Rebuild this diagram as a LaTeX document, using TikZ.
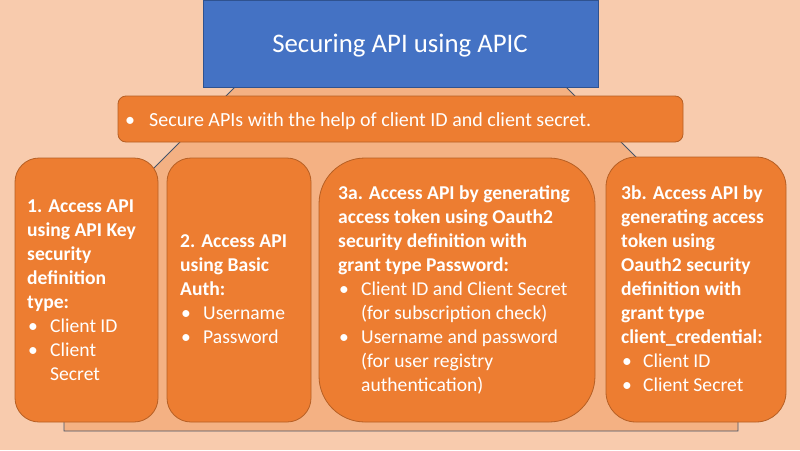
\documentclass[tikz,border=0pt]{standalone}
\usepackage{fontspec}
\setmainfont{Carlito}
\definecolor{bgpeach}{HTML}{F8CBAD}
\definecolor{lightor}{HTML}{F4B183}
\definecolor{boxor}{HTML}{ED7D31}
\definecolor{boxedge}{HTML}{B65F24}
\definecolor{titleblue}{HTML}{4472C4}
\definecolor{titleedge}{HTML}{2F528F}
\definecolor{polyedge}{HTML}{44546A}
\newcommand{\mybul}{\makebox[23pt][l]{\hspace{1pt}•}}
\newcommand{\myind}{\hspace*{23pt}}
\tikzset{
  obox/.style={draw=boxedge, fill=boxor, line width=0.8pt, inner sep=0pt},
  txt/.style={anchor=base west, inner sep=0pt, text=white, font=\fontsize{19.6}{24}\selectfont},
}
\begin{document}
\begin{tikzpicture}[x=1pt,y=-1pt]
\useasboundingbox (0,0) rectangle (800,450);
\fill[bgpeach] (0,0) rectangle (800,450);
% background polygon
\filldraw[fill=lightor, draw=polyedge, line width=0.8pt]
  (235,87) -- (566,87) -- (738,259) -- (738,431) -- (64,431) -- (64,258) -- cycle;
% title
\node[draw=titleedge, fill=titleblue, line width=0.8pt, minimum width=395pt, minimum height=87pt, inner sep=0pt] (title) at (400.5,43.5) {};
\node[anchor=base, inner sep=0pt, text=white, font=\fontsize{26.8}{30}\selectfont] (titletxt) at (400,52) {Securing API using APIC};
% middle bar
\node[obox, rounded corners=8pt, minimum width=565pt, minimum height=46pt] (bar) at (400.5,119) {};
\node[anchor=base west, inner sep=0pt, text=white, font=\fontsize{20}{24}\selectfont] (bartxt) at (125,126) {\makebox[24pt][l]{•}Secure APIs with the help of client ID and client secret.};
% boxes
\node[obox, rounded corners=24pt, minimum width=143pt, minimum height=264pt] (b1) at (86.5,290) {};
\node[obox, rounded corners=24pt, minimum width=144pt, minimum height=264pt] (b2) at (239,290) {};
\node[obox, rounded corners=46pt, minimum width=276pt, minimum height=264pt] (b3) at (457,290) {};
\node[obox, rounded corners=30pt, minimum width=180pt, minimum height=265pt] (b4) at (696,289.5) {};
% texts
\node[txt] (t1) at (27,212) {\parbox[t]{135pt}{\raggedright\bfseries 1. Access API\\ using API Key\\ security\\ definition\\ type:\\ \mdseries\mybul Client ID\\ \mybul Client\\ \myind Secret}};
\node[txt] (t2) at (180,247) {\parbox[t]{135pt}{\raggedright\bfseries 2. Access API\\ using Basic\\ Auth:\\ \mdseries\mybul Username\\ \mybul Password}};
\node[txt] (t3) at (338,199) {\parbox[t]{260pt}{\raggedright\bfseries 3a. Access API by generating\\ access token using Oauth2\\ security definition with\\ grant type Password:\\ \mdseries\mybul Client ID and Client Secret\\ \myind (for subscription check)\\ \mybul Username and password\\ \myind (for user registry\\ \myind authentication)}};
\node[txt] (t4) at (621,199) {\parbox[t]{170pt}{\raggedright\bfseries 3b. Access API by\\ generating access\\ token using\\ Oauth2 security\\ definition with\\ grant type\\ client\_credential:\\ \mdseries\makebox[22pt][l]{\hspace{1pt}•}Client ID\\ \makebox[22pt][l]{\hspace{1pt}•}Client Secret}};
\end{tikzpicture}
\end{document}
